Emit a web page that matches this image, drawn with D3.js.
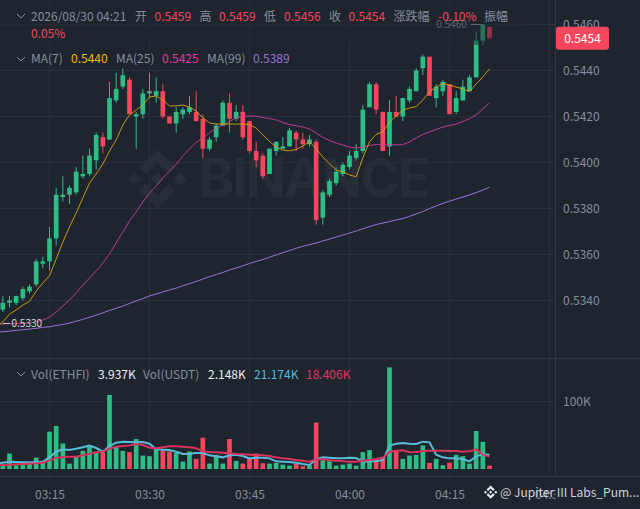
<!DOCTYPE html>
<html>
<head>
<meta charset="utf-8">
<script src="https://cdn.jsdelivr.net/npm/d3@7"></script>
<style>
    html, body { margin: 0; padding: 0; background: #1f252f; overflow: hidden; }
    text { font-family: "Noto Sans CJK SC", "Noto Sans", sans-serif; }
</style>
</head>
<body>
<div id="chart-area"></div>
<script>
// Minute labels, one per candle (03:07 only sticks its lines in from the left edge)
var times = ["03:07","03:08","03:09","03:10","03:11","03:12","03:13","03:14","03:15","03:16","03:17",
    "03:18","03:19","03:20","03:21","03:22","03:23","03:24","03:25","03:26","03:27",
    "03:28","03:29","03:30","03:31","03:32","03:33","03:34","03:35","03:36","03:37",
    "03:38","03:39","03:40","03:41","03:42","03:43","03:44","03:45","03:46","03:47",
    "03:48","03:49","03:50","03:51","03:52","03:53","03:54","03:55","03:56","03:57",
    "03:58","03:59","04:00","04:01","04:02","04:03","04:04","04:05","04:06","04:07",
    "04:08","04:09","04:10","04:11","04:12","04:13","04:14","04:15","04:16","04:17",
    "04:18","04:19","04:20","04:21"];

var opens = [0.5338,0.5336,0.5339,0.5339,0.5341,0.5344,0.5347,0.5356,0.5357,0.5367,0.5385,
    0.5386,0.5387,0.5394,0.5395,0.5401,0.5411,0.5410,0.5427,0.5433,0.5436,
    0.5420,0.5421,0.5430,0.5429,0.5431,0.5420,0.5417,0.5421,0.5422,0.5422,
    0.5419,0.5406,0.5411,0.5416,0.5426,0.5419,0.5422,0.5418,0.5405,0.5403,
    0.5395,0.5405,0.5406,0.5407,0.5413,0.5410,0.5408,0.5409,0.5376,0.5386,
    0.5391,0.5395,0.5398,0.5402,0.5405,0.5424,0.5434,0.5422,0.5407,0.5422,
    0.5420,0.5427,0.5431,0.5441,0.5446,0.5428,0.5431,0.5434,0.5422,0.5427,
    0.5431,0.5437,0.5453,0.5459];
var highs = [0.5340,0.5342,0.5342,0.5342,0.5346,0.5347,0.5358,0.5359,0.5372,0.5389,0.5394,
    0.5390,0.5398,0.5403,0.5406,0.5413,0.5413,0.5435,0.5439,0.5441,0.5437,
    0.5422,0.5432,0.5439,0.5437,0.5434,0.5420,0.5424,0.5424,0.5429,0.5431,
    0.5421,0.5411,0.5417,0.5427,0.5430,0.5425,0.5425,0.5418,0.5409,0.5404,
    0.5406,0.5409,0.5411,0.5415,0.5414,0.5413,0.5412,0.5410,0.5388,0.5393,
    0.5398,0.5400,0.5405,0.5408,0.5425,0.5435,0.5435,0.5422,0.5427,0.5429,
    0.5428,0.5433,0.5441,0.5447,0.5446,0.5434,0.5436,0.5434,0.5431,0.5436,
    0.5438,0.5457,0.5460,0.5459];
var lows = [0.5337,0.5335,0.5337,0.5338,0.5340,0.5343,0.5346,0.5354,0.5353,0.5364,0.5383,
    0.5382,0.5386,0.5393,0.5394,0.5397,0.5404,0.5410,0.5426,0.5432,0.5421,
    0.5406,0.5419,0.5428,0.5426,0.5419,0.5417,0.5413,0.5419,0.5421,0.5418,
    0.5402,0.5405,0.5409,0.5416,0.5413,0.5418,0.5410,0.5404,0.5398,0.5393,
    0.5395,0.5403,0.5406,0.5407,0.5405,0.5406,0.5407,0.5373,0.5373,0.5385,
    0.5390,0.5394,0.5397,0.5401,0.5404,0.5424,0.5421,0.5405,0.5403,0.5420,
    0.5418,0.5426,0.5431,0.5438,0.5429,0.5424,0.5429,0.5421,0.5421,0.5427,
    0.5431,0.5437,0.5451,0.5456];
var closes = [0.5339,0.5339,0.5340,0.5342,0.5345,0.5346,0.5357,0.5357,0.5367,0.5386,0.5386,
    0.5389,0.5396,0.5395,0.5403,0.5412,0.5407,0.5428,0.5432,0.5438,0.5421,
    0.5421,0.5430,0.5431,0.5431,0.5420,0.5417,0.5422,0.5423,0.5424,0.5418,
    0.5406,0.5410,0.5416,0.5426,0.5419,0.5422,0.5411,0.5405,0.5401,0.5394,
    0.5406,0.5409,0.5407,0.5414,0.5410,0.5408,0.5410,0.5375,0.5387,0.5392,
    0.5396,0.5399,0.5403,0.5405,0.5423,0.5434,0.5423,0.5405,0.5422,0.5420,
    0.5428,0.5432,0.5440,0.5446,0.5429,0.5433,0.5435,0.5421,0.5428,0.5433,
    0.5437,0.5453,0.5460,0.5454];

var ma7 = [0.53285,0.53307,0.53341,0.53359,0.53380,0.53396,0.53441,0.53476,0.53507,0.53580,0.53654,
    0.53720,0.53780,0.53846,0.53911,0.53950,0.53994,0.54050,0.54098,0.54163,0.54207,
    0.54228,0.54250,0.54285,0.54289,0.54272,0.54246,0.54246,0.54250,0.54241,0.54224,
    0.54194,0.54172,0.54167,0.54167,0.54167,0.54167,0.54167,0.54165,0.54150,0.54120,
    0.54092,0.54067,0.54054,0.54051,0.54057,0.54072,0.54090,0.54059,0.54024,0.53994,
    0.53967,0.53959,0.53946,0.53938,0.54020,0.54090,0.54122,0.54133,0.54177,0.54202,
    0.54228,0.54237,0.54243,0.54272,0.54307,0.54328,0.54344,0.54337,0.54328,0.54320,
    0.54308,0.54341,0.54372,0.54407];
var ma25 = [0.53297,0.53298,0.53299,0.53299,0.53300,0.53302,0.53307,0.53315,0.53328,0.53350,0.53376,
    0.53402,0.53433,0.53467,0.53498,0.53528,0.53563,0.53602,0.53650,0.53698,0.53746,
    0.53785,0.53828,0.53867,0.53898,0.53933,0.53963,0.53993,0.54028,0.54059,0.54087,
    0.54107,0.54130,0.54148,0.54163,0.54178,0.54194,0.54200,0.54202,0.54201,0.54196,
    0.54191,0.54185,0.54174,0.54165,0.54160,0.54154,0.54146,0.54128,0.54109,0.54096,
    0.54085,0.54076,0.54067,0.54063,0.54067,0.54074,0.54078,0.54080,0.54078,0.54076,
    0.54078,0.54089,0.54107,0.54122,0.54133,0.54144,0.54154,0.54161,0.54167,0.54178,
    0.54191,0.54207,0.54233,0.54259];
var ma99 = [0.53263,0.53264,0.53267,0.53270,0.53273,0.53276,0.53279,0.53283,0.53286,0.53291,0.53296,
    0.53302,0.53310,0.53318,0.53327,0.53336,0.53346,0.53357,0.53366,0.53376,0.53387,
    0.53398,0.53408,0.53420,0.53428,0.53437,0.53446,0.53454,0.53464,0.53473,0.53483,
    0.53493,0.53504,0.53513,0.53522,0.53533,0.53541,0.53551,0.53561,0.53570,0.53578,
    0.53588,0.53598,0.53608,0.53617,0.53627,0.53636,0.53643,0.53650,0.53659,0.53667,
    0.53676,0.53685,0.53693,0.53702,0.53712,0.53721,0.53730,0.53737,0.53743,0.53750,
    0.53756,0.53766,0.53776,0.53787,0.53800,0.53811,0.53822,0.53832,0.53841,0.53850,
    0.53859,0.53869,0.53880,0.53893];

// Volume in thousands
var vols = [6,7,23,5.5,8,8,17,10,55.4,64,38,
    8,19,27,33,24,25,110,33,27,25,
    44.5,20,19,30,27,26,24,11,26,15,
    46.5,8,21,8,44.5,12,8,16,23,8.5,
    8,9,6.5,5,8,4,5.5,69,13,11.5,
    5,6.5,8,5,25,28,11,18,151,27,
    15,20,21,35,9,15,5.5,9.5,21,19,
    8,56.5,40.5,5];
var volMa7 = [8,9.4,10.9,10.4,9.9,9.9,9.9,10.9,17.3,25.7,29.2,
    28.2,30.2,32.2,34.7,31.2,25.7,34.2,39.1,40.6,40.1,
    39.6,40.1,37.6,29.2,28.7,28.2,25.7,22.3,22.8,23.8,
    23.8,20.3,18.8,17.3,20.3,21.3,19.3,15.8,16.8,16.8,
    15.8,11.4,10.9,10.4,9.4,7.4,5.9,14.4,17.3,16.8,
    15.8,15.8,16.8,16.3,10.9,11.4,11.9,12.9,34.7,37.6,
    38.6,37.6,37.1,40.6,39.6,21.3,17.3,15.8,15.8,14.9,
    11.4,18.8,21.8,21.2];
var volMa25 = [5.9,5.9,6.4,6.9,7.4,7.9,8.4,9.4,12.9,16.8,17.8,
    18.3,18.3,20.3,22.8,24.8,26.2,30.2,33.2,34.2,35.1,
    37.1,35.6,31.7,30.7,32.2,33.7,33.7,33.2,32.2,30.7,
    26.2,25.2,24.8,24.3,23.3,22.3,21.8,21.3,20.8,20.3,
    19.3,17.3,15.8,14.9,13.4,12.4,10.9,14.4,14.4,12.9,
    12.4,11.4,10.9,10.9,12.4,13.4,14.9,16.8,25.2,27.2,
    27.7,24.8,25.2,26.7,27.2,27.2,27.2,26.7,26.7,25.7,
    26.2,29.2,21.3,18.4];

var priceTicks = [0.5340,0.5360,0.5380,0.5400,0.5420,0.5440,0.5460];
var volTicks = [100];
var timeTicks = ["03:15","03:30","03:45","04:00","04:15","04:30"];

var GREEN = "#2ebd85", RED = "#f6465d", GRID = "#2a303b", LABEL = "#848e9c";

var parseTime = d3.timeParse("%H:%M");
var width = 640, height = 509, plotRight = 555.5;

var svg = d3.select("#chart-area")
    .append("svg")
        .attr("width", width)
        .attr("height", height)
        .style("display", "block");

svg.append("rect")
    .attr("width", width)
    .attr("height", height)
    .attr("fill", "#1f252f");

var clip = svg.append("defs").append("clipPath").attr("id", "plot");
clip.append("rect").attr("width", plotRight).attr("height", 477);

// Scales
var x = d3.scaleTime()
    .domain([parseTime("03:15"), parseTime("04:15")])
    .range([49.5, 449.5]);

var y = d3.scaleLinear()
    .domain([0.5340, 0.5460])
    .range([300.5, 24.5]);

var yVol = d3.scaleLinear()
    .domain([0, 100])
    .range([469, 401.7]);

var color = function(i) { return closes[i] >= opens[i] ? GREEN : RED; };

// Grid
var plot = svg.append("g").attr("clip-path", "url(#plot)");

var grid = plot.append("g").attr("shape-rendering", "crispEdges").attr("stroke", GRID);
grid.selectAll(".v").data(timeTicks).enter().append("line")
    .attr("x1", function(d) { return x(parseTime(d)); })
    .attr("x2", function(d) { return x(parseTime(d)); })
    .attr("y1", 0)
    .attr("y2", 476);
grid.selectAll(".h").data(priceTicks).enter().append("line")
    .attr("x1", 0)
    .attr("x2", plotRight)
    .attr("y1", function(d) { return y(d); })
    .attr("y2", function(d) { return y(d); });
grid.selectAll(".hv").data(volTicks).enter().append("line")
    .attr("x1", 0)
    .attr("x2", plotRight)
    .attr("y1", function(d) { return yVol(d); })
    .attr("y2", function(d) { return yVol(d); });

// Pane borders
var borders = svg.append("g").attr("shape-rendering", "crispEdges").attr("stroke", "#323843");
borders.append("line").attr("x1", 0).attr("x2", width).attr("y1", 358.5).attr("y2", 358.5);
borders.append("line").attr("x1", 0).attr("x2", width).attr("y1", 476.5).attr("y2", 476.5);
borders.append("line").attr("x1", 555.5).attr("x2", 555.5).attr("y1", 0).attr("y2", 476.5);

// Watermark
var mark = plot.append("g").attr("fill", "#282e38");
mark.append("path")
    .attr("transform", "translate(128,149.5) scale(0.466)")
    .attr("d", "M38.73 53.2l24.59-24.58 24.6 24.6 14.3-14.31L63.32 0 24.42 38.9zM0 63.31l14.3-14.31 14.31 14.31-14.31 14.3zM38.73 73.41l24.59 24.59 24.6-24.6 14.31 14.29-38.9 38.91-38.91-38.88zM98.28 63.31l14.3-14.31 14.31 14.3-14.31 14.32zM77.83 63.3L63.32 48.78 52.59 59.51l-1.24 1.23-2.54 2.54 14.51 14.5 14.51-14.47z");
mark.append("text")
    .attr("x", 199)
    .attr("y", 197)
    .attr("font-size", "53px")
    .attr("font-weight", 700)
    .attr("textLength", 231)
    .attr("lengthAdjust", "spacing")
    .style("font-family", "Inter, sans-serif")
    .text("BINANCE");

// Volume bars
plot.append("g").selectAll("rect")
    .data(times)
    .enter()
    .append("rect")
        .attr("x", function(d) { return x(parseTime(d)) - 2.33; })
        .attr("y", function(d, i) { return yVol(vols[i]); })
        .attr("width", 4.67)
        .attr("height", function(d, i) { return yVol(0) - yVol(vols[i]); })
        .attr("fill", function(d, i) { return color(i); });

// Candles
var candles = plot.append("g");
candles.selectAll(".wick").data(times).enter().append("rect")
    .attr("x", function(d) { return x(parseTime(d)) - 0.5; })
    .attr("y", function(d, i) { return y(highs[i]); })
    .attr("width", 1)
    .attr("height", function(d, i) { return y(lows[i]) - y(highs[i]); })
    .attr("fill", function(d, i) { return color(i); });
candles.selectAll(".body").data(times).enter().append("rect")
    .attr("x", function(d) { return x(parseTime(d)) - 2.33; })
    .attr("y", function(d, i) { return y(Math.max(opens[i], closes[i])); })
    .attr("width", 4.67)
    .attr("height", function(d, i) { return Math.abs(y(opens[i]) - y(closes[i])); })
    .attr("fill", function(d, i) { return color(i); });

// Moving averages
function drawLine(values, scale, stroke, lineWidth) {
    var line = d3.line()
        .x(function(d, i) { return x(parseTime(times[i])); })
        .y(function(d) { return scale(d); });
    plot.append("path")
        .datum(values)
        .attr("fill", "none")
        .attr("stroke", stroke)
        .attr("stroke-width", lineWidth)
        .attr("d", line);
}
drawLine(ma99, y, "#9b72d8", 1);
drawLine(ma25, y, "#cf3a9e", 0.9);
drawLine(ma7, y, "#d9a10e", 0.9);
drawLine(volMa7, yVol, "#57bcd8", 2);
drawLine(volMa25, yVol, "#d9325f", 2);

// High and low markers
var highIndex = d3.range(times.length).reduce(function(a, b) { return highs[b] > highs[a] ? b : a; }, 0);
var highX = x(parseTime(times[highIndex]));
plot.append("line")
    .attr("x1", highX - 12)
    .attr("x2", highX)
    .attr("y1", y(highs[highIndex]))
    .attr("y2", y(highs[highIndex]))
    .attr("stroke", "#9aa0aa");
plot.append("text")
    .attr("x", highX - 16)
    .attr("y", y(highs[highIndex]))
    .attr("dy", "0.35em")
    .attr("text-anchor", "end")
    .attr("font-size", "10px")
    .attr("fill", "#9aa0aa")
    .text("0.5460");
plot.append("line")
    .attr("x1", 3)
    .attr("x2", 10)
    .attr("y1", y(0.5330))
    .attr("y2", y(0.5330))
    .attr("stroke", "#c3c7cd");
plot.append("text")
    .attr("x", 11.5)
    .attr("y", y(0.5330))
    .attr("dy", "0.35em")
    .attr("font-size", "10px")
    .attr("fill", "#d5d8dc")
    .text("0.5330");

// Legend backing dims whatever runs under it
svg.append("rect")
    .attr("x", 0)
    .attr("y", 0)
    .attr("width", 526)
    .attr("height", 45)
    .attr("fill", "#1f252f")
    .attr("opacity", 0.5);

// Price axis
var yAxis = d3.axisRight(y)
    .tickValues(priceTicks)
    .tickSize(0)
    .tickPadding(0)
    .tickFormat(d3.format(".4f"));
var yAxisGroup = svg.append("g")
    .attr("transform", "translate(563,0)")
    .call(yAxis);
yAxisGroup.select(".domain").remove();
yAxisGroup.selectAll("text").attr("font-size", "12px").attr("fill", LABEL);

// Volume axis
var volAxis = d3.axisRight(yVol)
    .tickValues(volTicks)
    .tickSize(0)
    .tickPadding(0)
    .tickFormat(function(d) { return d + "K"; });
var volAxisGroup = svg.append("g")
    .attr("transform", "translate(563,0)")
    .call(volAxis);
volAxisGroup.select(".domain").remove();
volAxisGroup.selectAll("text").attr("font-size", "12px").attr("fill", LABEL);

// Time axis
var xAxis = d3.axisBottom(x)
    .tickValues(timeTicks.map(parseTime))
    .tickSize(0)
    .tickPadding(0)
    .tickFormat(d3.timeFormat("%H:%M"));
var xClip = svg.select("defs").append("clipPath").attr("id", "timeAxis");
xClip.append("rect").attr("y", 477).attr("width", plotRight).attr("height", 32);
var xAxisGroup = svg.append("g")
    .attr("clip-path", "url(#timeAxis)")
    .append("g")
    .attr("transform", "translate(0,490)")
    .call(xAxis);
xAxisGroup.select(".domain").remove();
xAxisGroup.selectAll("text").attr("font-size", "12px").attr("fill", LABEL);

// Last price badge
var lastPrice = closes[closes.length - 1];
svg.append("rect")
    .attr("x", 556)
    .attr("y", y(lastPrice) - 11.5)
    .attr("width", 53)
    .attr("height", 23)
    .attr("rx", 3)
    .attr("fill", RED);
svg.append("text")
    .attr("x", 582.5)
    .attr("y", y(lastPrice))
    .attr("dy", "0.35em")
    .attr("text-anchor", "middle")
    .attr("font-size", "12px")
    .attr("fill", "#ffffff")
    .text(d3.format(".4f")(lastPrice));

// Legend text
var MUTED = "#848e9c";
var legendItems = [
    { x: 31, y: 21, c: MUTED, t: "2026/08/30 04:21" },
    { x: 135, y: 21, c: MUTED, t: "开" },
    { x: 154.5, y: 21, c: RED, t: "0.5459" },
    { x: 199.5, y: 21, c: MUTED, t: "高" },
    { x: 219, y: 21, c: RED, t: "0.5459" },
    { x: 264, y: 21, c: MUTED, t: "低" },
    { x: 284, y: 21, c: RED, t: "0.5456" },
    { x: 329, y: 21, c: MUTED, t: "收" },
    { x: 348.5, y: 21, c: RED, t: "0.5454" },
    { x: 393.5, y: 21, c: MUTED, t: "涨跌幅" },
    { x: 438, y: 21, c: RED, t: "-0.10%" },
    { x: 484, y: 21, c: MUTED, t: "振幅" },
    { x: 31, y: 38, c: RED, t: "0.05%" },
    { x: 31, y: 63, c: MUTED, t: "MA(7)" },
    { x: 71, y: 63, c: "#f0b90b", t: "0.5440" },
    { x: 116, y: 63, c: MUTED, t: "MA(25)" },
    { x: 162, y: 63, c: "#e0359f", t: "0.5425" },
    { x: 207, y: 63, c: MUTED, t: "MA(99)" },
    { x: 253, y: 63, c: "#9b72d8", t: "0.5389" },
    { x: 31, y: 379, c: MUTED, t: "Vol(ETHFI)" },
    { x: 98, y: 379, c: "#eaecef", t: "3.937K" },
    { x: 143, y: 379, c: MUTED, t: "Vol(USDT)" },
    { x: 208, y: 379, c: "#eaecef", t: "2.148K" },
    { x: 254, y: 379, c: "#57bcd8", t: "21.174K" },
    { x: 306, y: 379, c: "#e0355f", t: "18.406K" }
];
svg.append("g").selectAll("text")
    .data(legendItems)
    .enter()
    .append("text")
        .attr("x", function(d) { return d.x; })
        .attr("y", function(d) { return d.y; })
        .attr("font-size", "12px")
        .attr("fill", function(d) { return d.c; })
        .text(function(d) { return d.t; });

// Collapse chevrons
[16, 59, 374].forEach(function(cy) {
    svg.append("path")
        .attr("d", "M17 " + (cy - 2) + "L21 " + (cy + 2) + "L25 " + (cy - 2))
        .attr("fill", "none")
        .attr("stroke", MUTED);
});

// Author tag, bottom right
svg.append("path")
    .attr("transform", "translate(484,485.5) scale(0.105)")
    .attr("fill", "#eaecef")
    .attr("d", "M38.73 53.2l24.59-24.58 24.6 24.6 14.3-14.31L63.32 0 24.42 38.9zM0 63.31l14.3-14.31 14.31 14.31-14.31 14.3zM38.73 73.41l24.59 24.59 24.6-24.6 14.31 14.29-38.9 38.91-38.91-38.88zM98.28 63.31l14.3-14.31 14.31 14.3-14.31 14.32zM77.83 63.3L63.32 48.78 52.59 59.51l-1.24 1.23-2.54 2.54 14.51 14.5 14.51-14.47z");
svg.append("text")
    .attr("x", 500)
    .attr("y", 497)
    .attr("font-size", "12px")
    .attr("fill", "#cfd2d6")
    .text("@ Jupiter III Labs_Pum...");
</script>
</body>
</html>
